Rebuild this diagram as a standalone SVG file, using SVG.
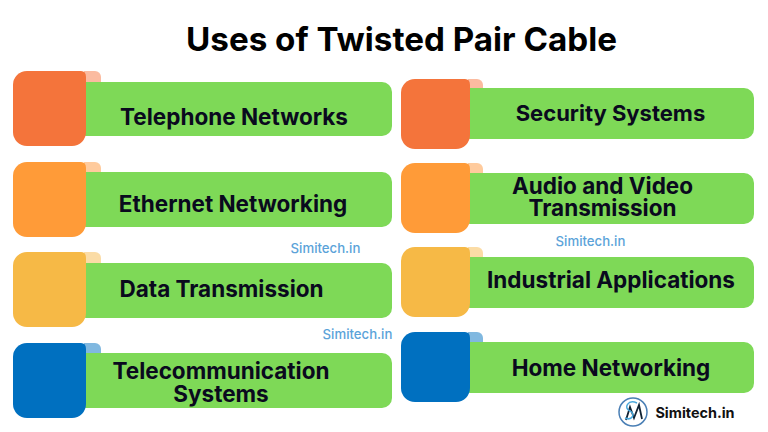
<svg xmlns="http://www.w3.org/2000/svg" width="768" height="432" viewBox="0 0 768 432">
<style>
text{font-family:"Inter","Liberation Sans",sans-serif;font-weight:700;fill:#0a0a1e;text-anchor:middle}
.t{font-size:22.500px}
.s{font-size:22px}
.h{font-size:33.200px;fill:#000}
.w{font-weight:500;font-size:13.200px;fill:#5ba3d9}
.bar{fill:#7ed957}
.o1{fill:#f4743b}.o2{fill:#ff9b38}.o3{fill:#f6b946}.o4{fill:#0070c0}
.p1{fill:#fbbba0}.p2{fill:#ffcb9d}.p3{fill:#fbdca6}.p4{fill:#80b8e0}
</style>
<defs>
<path id="sqL" d="M14 0H68Q73 0 73 6V61A14 14 0 0 1 59 75H14A14 14 0 0 1 0 61V14A14 14 0 0 1 14 0Z"/>
<path id="sqR" d="M14 0H64Q69 0 69 6V56A14 14 0 0 1 55 70H14A14 14 0 0 1 0 56V14A14 14 0 0 1 14 0Z"/>
<path id="fL" d="M0 0H11A6 6 0 0 1 17 6V24H0Z"/>
<path id="fR" d="M0 0H9A6 6 0 0 1 15 6V24H0Z"/>
</defs>
<rect width="768" height="432" fill="#fff"/>
<text class="h" x="401.500" y="51">Uses of Twisted Pair Cable</text>
<g id="n1"><use href="#fL" class="p1" x="84" y="71"/><rect class="bar" x="76" y="82" width="316" height="54" rx="10"/><use href="#sqL" class="o1" x="13" y="71"/><text class="t" x="234" y="125">Telephone Networks</text></g>
<g id="n2"><use href="#fL" class="p2" x="84" y="162"/><rect class="bar" x="76" y="172" width="316" height="55" rx="10"/><use href="#sqL" class="o2" x="13" y="162"/><text class="t" x="233" y="212">Ethernet Networking</text></g>
<g id="n3"><use href="#fL" class="p3" x="84" y="252"/><rect class="bar" x="76" y="263" width="316" height="55" rx="10"/><use href="#sqL" class="o3" x="13" y="252"/><text class="t" x="221.500" y="297">Data Transmission</text></g>
<g id="n4"><use href="#fL" class="p4" x="84" y="343"/><rect class="bar" x="76" y="353" width="316" height="55" rx="10"/><use href="#sqL" class="o4" x="13" y="343"/><text class="t" x="221" y="379">Telecommunication</text><text class="t" x="221" y="402">Systems</text></g>
<g id="n5"><use href="#fR" class="p1" x="468" y="79"/><rect class="bar" x="460" y="88" width="294" height="51" rx="10"/><use href="#sqR" class="o1" x="401" y="79"/><text class="s" x="610.500" y="121">Security Systems</text></g>
<g id="n6"><use href="#fR" class="p2" x="468" y="163"/><rect class="bar" x="460" y="173" width="294" height="51" rx="10"/><use href="#sqR" class="o2" x="401" y="163"/><text class="t" x="602.500" y="194">Audio and Video</text><text class="t" x="602.500" y="216">Transmission</text></g>
<g id="n7"><use href="#fR" class="p3" x="468" y="247"/><rect class="bar" x="460" y="257" width="294" height="51" rx="10"/><use href="#sqR" class="o3" x="401" y="247"/><text class="t" x="611" y="288">Industrial Applications</text></g>
<g id="n8"><use href="#fR" class="p4" x="468" y="332"/><rect class="bar" x="460" y="342" width="294" height="51" rx="10"/><use href="#sqR" class="o4" x="401" y="332"/><text class="t" x="611" y="376">Home Networking</text></g>
<g id="connectors"/>
<text class="w" x="325.500" y="253">Simitech.in</text>
<text class="w" x="590.500" y="246">Simitech.in</text>
<text class="w" x="357.500" y="339">Simitech.in</text>
<g id="logo"><circle cx="633" cy="412" r="14" fill="#fff" stroke="#4a7fb5" stroke-width="1.500"/><path d="M626 420L630 407L634 418L639 405L642 419" fill="none" stroke="#123" stroke-width="1.800"/><path d="M637 403C628 399 623 408 630 411C636 414 632 421 625 418" fill="none" stroke="#4aa8dc" stroke-width="1.500"/><text x="695" y="418" style="font-size:14.400px;fill:#111">Simitech.in</text></g>
</svg>
